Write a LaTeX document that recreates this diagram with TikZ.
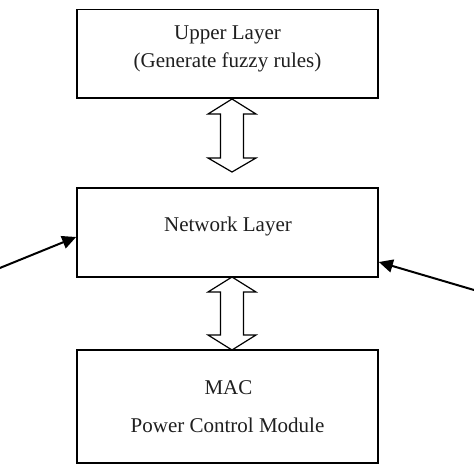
\documentclass[tikz,border=0pt]{standalone}
\usepackage{fontspec}
\setmainfont{Liberation Serif}
\usetikzlibrary{arrows.meta,calc}
\begin{document}
\begin{tikzpicture}[x=1pt,y=1pt,
  layerbox/.style={draw=black,line width=1.7pt,minimum width=301pt,inner sep=0pt},
  lbl/.style={anchor=base,font=\fontsize{21}{25}\selectfont,text=black!88,inner sep=0pt},
  dblarrow/.style={draw=black,line width=1.2pt,fill=white,line join=miter},
  sidearrow/.style={draw=black,line width=2pt,-{Triangle[length=14pt,width=13pt]}}
]
\clip (0,0) rectangle (474,474);
\fill[white] (0,0) rectangle (474,474);
% boxes
\node[layerbox,minimum height=88.5pt] (upper) at (227.75,420.25) {};
\node[layerbox,minimum height=89pt] (net) at (227.5,241.5) {};
\node[layerbox,minimum height=113pt] (mac) at (227.5,67.5) {};
% labels
\node[lbl] (t1) at (227.5,434) {Upper Layer};
\node[lbl] (t2) at (227.5,406) {(Generate fuzzy rules)};
\node[lbl] (t3) at (228,242) {Network Layer};
\node[lbl] (t4) at (228.5,79) {MAC};
\node[lbl] (t5) at (227.5,41) {Power Control Module};
% double arrows
\draw[dblarrow] (232,375) -- (256,360) -- (243.5,360) -- (243.5,316) -- (256,316) -- (232,302)
  -- (208,316) -- (220.5,316) -- (220.5,360) -- (208,360) -- cycle;
\draw[dblarrow] (232,197) -- (256,182) -- (243.5,182) -- (243.5,139) -- (256,139) -- (232,124)
  -- (208,139) -- (220.5,139) -- (220.5,182) -- (208,182) -- cycle;
% side arrows
\coordinate (lsrc) at (-10,202);
\coordinate (rsrc) at (490,179.3);
\draw[sidearrow] (lsrc) -- (net.west |- 0,237);
\draw[sidearrow] (rsrc) -- (net.east |- 0,212);
\end{tikzpicture}
\end{document}
